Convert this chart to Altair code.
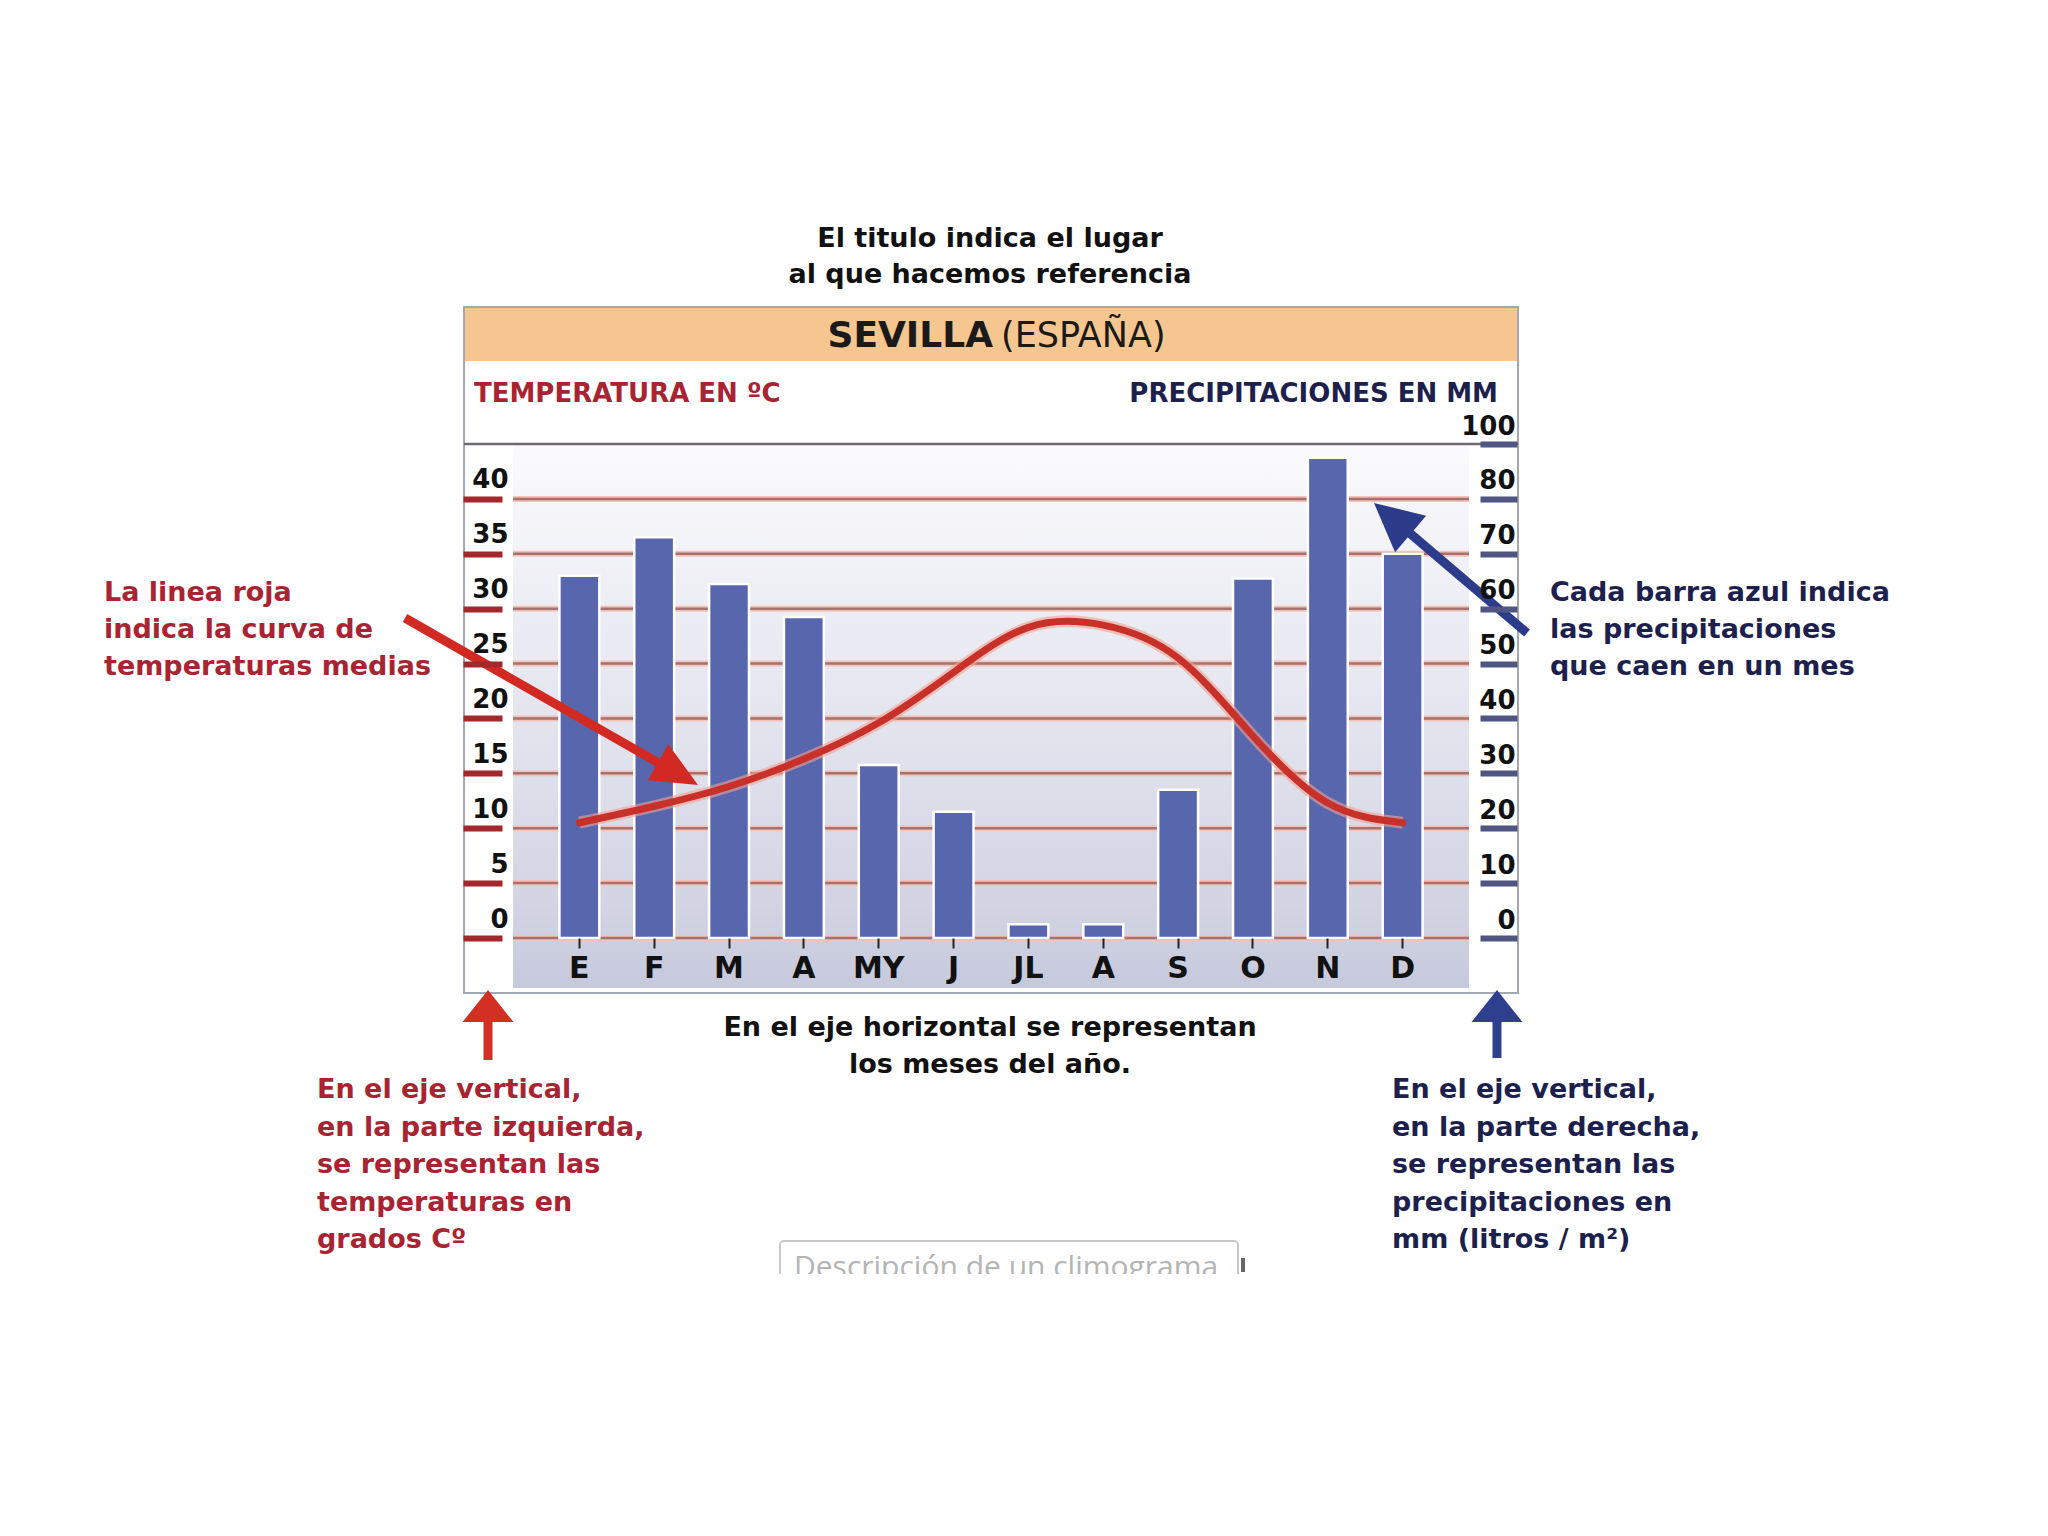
import json
import altair as alt
import pandas as pd

# ---------------- data ----------------
months = ["E", "F", "M", "A", "MY", "J", "JL", "A", "S", "O", "N", "D"]
temperatura = [10.5, 12.0, 13.8, 16.3, 19.6, 24.2, 28.3, 28.5, 25.5, 18.4, 12.3, 10.5]
precipitacion = [66, 73, 64.5, 58.5, 31.5, 23, 2.5, 2.5, 27, 65.5, 87.5, 70]
temp_ticks = [0, 5, 10, 15, 20, 25, 30, 35, 40]
precip_ticks = [0, 10, 20, 30, 40, 50, 60, 70, 80, 90]
precip_tick_labels = ["0", "10", "20", "30", "40", "50", "60", "70", "80", "100"]

titulo_lugar = "SEVILLA"
titulo_pais = "(ESPAÑA)"
eje_temp = "TEMPERATURA EN ºC"
eje_prec = "PRECIPITACIONES EN MM"
nota_titulo = ["El titulo indica el lugar", "al que hacemos referencia"]
nota_linea = ["La linea roja", "indica la curva de", "temperaturas medias"]
nota_barra = ["Cada barra azul indica", "las precipitaciones", "que caen en un mes"]
nota_horiz = ["En el eje horizontal se representan", "los meses del año."]
nota_izq = ["En el eje vertical,", "en la parte izquierda,", "se representan las",
            "temperaturas en", "grados Cº"]
nota_der = ["En el eje vertical,", "en la parte derecha,", "se representan las",
            "precipitaciones en", "mm (litros / m²)"]
pie = "Descripción de un climograma"

# ---------------- layout ----------------
FONT = "DejaVu Sans"
OX, OY = 513, 444          # plot origin on the page
PW, PH = 956, 494          # plot size
RED_T = "#a82432"
NAVY_T = "#1d1f4c"

df = pd.DataFrame({"i": list(range(12)), "temp": temperatura, "prec": precipitacion})
grid_df = pd.DataFrame({"t": temp_ticks})
one = pd.DataFrame({"k": [0]})


def X(px):
    return px - OX


def Y(py):
    return py - OY


def texto(lines, x, y, color, size, align="left", weight="bold", lh=None, font=FONT):
    kw = dict(text=lines, align=align, baseline="alphabetic", fontSize=size,
              fontWeight=weight, font=font, color=color)
    if lh:
        kw["lineHeight"] = lh
    return alt.Chart(one).mark_text(**kw).encode(x=alt.value(X(x)), y=alt.value(Y(y)))


def rect(x1, y1, x2, y2, **kw):
    return alt.Chart(one).mark_rect(**kw).encode(
        x=alt.value(X(x1)), x2=alt.value(X(x2)), y=alt.value(Y(y1)), y2=alt.value(Y(y2)))


def linea(x1, y1, x2, y2, color, w):
    return alt.Chart(one).mark_rule(color=color, strokeWidth=w, strokeCap="butt").encode(
        x=alt.value(X(x1)), x2=alt.value(X(x2)), y=alt.value(Y(y1)), y2=alt.value(Y(y2)))


def punta(x, y, color, size, angle, shape):
    return alt.Chart(one).mark_point(shape=shape, filled=True, size=size, angle=angle,
                                     color=color, opacity=1, strokeWidth=0).encode(
        x=alt.value(X(x)), y=alt.value(Y(y)))


# ---------------- scales / axes ----------------
month_expr = json.dumps(months) + "[datum.value]"
xscale = alt.Scale(paddingInner=0.467, paddingOuter=0.62)
xenc = alt.X("i:O", scale=xscale, axis=alt.Axis(
    title=None, labelExpr=month_expr, labelAngle=0, domain=False, grid=False,
    tickSize=10, tickWidth=2, tickColor="#222222",
    labelFont=FONT, labelFontSize=30, labelFontWeight="bold", labelColor="#111111",
    labelBaseline="alphabetic", labelPadding=29, zindex=1))

tscale = alt.Scale(domain=[0, 45], nice=False, zero=True)
pscale = alt.Scale(domain=[0, 90], nice=False, zero=True)

prec_expr = json.dumps(precip_tick_labels) + "[indexof(" + json.dumps(precip_ticks) + ", datum.value)]"

left_axis = alt.Axis(orient="left", values=temp_ticks, title=None, domain=False, grid=False,
                     offset=11, tickSize=39, tickWidth=6, tickColor="#a3282b",
                     labelAlign="right", labelPadding=-45, labelBaseline="alphabetic",
                     labelOffset=-11, labelFont=FONT, labelFontSize=26,
                     labelFontWeight="bold", labelColor="#111111", zindex=1)
right_axis = alt.Axis(orient="right", values=precip_ticks, labelExpr=prec_expr, title=None,
                      domain=False, grid=False, offset=11, tickSize=37, tickWidth=6,
                      tickColor="#4f5682", labelAlign="right", labelPadding=-2,
                      labelBaseline="alphabetic", labelOffset=-10, labelFont=FONT,
                      labelFontSize=26, labelFontWeight="bold", labelColor="#111111",
                      zindex=1)

# ---------------- layers ----------------
grad = alt.Gradient(gradient="linear", x1=0, x2=0, y1=0, y2=1, stops=[
    alt.GradientStop(color="#fbfbfd", offset=0),
    alt.GradientStop(color="#e6e7f0", offset=0.45),
    alt.GradientStop(color="#d2d4e3", offset=0.85),
    alt.GradientStop(color="#c6c9dc", offset=1)])

bg = rect(513, 444, 1469, 988, fill=grad)
frame = rect(464, 307, 1518, 993, fill="white", fillOpacity=0, stroke="#a4a6b4", strokeWidth=2)
header = rect(465, 308, 1517, 361, fill="#f5c68f")
top_line = linea(464, 444, 1518, 444, "#6e6a70", 2.5)

grid_halo = alt.Chart(grid_df).mark_rule(color="#f2c2bb", strokeWidth=6).encode(
    y=alt.Y("t:Q", scale=tscale, axis=None))
grid_core = alt.Chart(grid_df).mark_rule(color="#a5726e", strokeWidth=2.5).encode(
    y=alt.Y("t:Q", scale=tscale, axis=None))

bars = alt.Chart(df).mark_bar(color="#5867ad", stroke="white", strokeWidth=2.5).encode(
    x=xenc, y=alt.Y("prec:Q", scale=pscale, axis=right_axis))

line_halo = alt.Chart(df).mark_line(color="#f3a195", strokeWidth=12, opacity=0.6,
                                     interpolate="natural").encode(
    x=xenc, y=alt.Y("temp:Q", scale=tscale, axis=None))
line = alt.Chart(df).mark_line(color="#c8302a", strokeWidth=7, interpolate="natural",
                               strokeCap="round").encode(
    x=xenc, y=alt.Y("temp:Q", scale=tscale, axis=left_axis))

textos = [
    texto(nota_titulo, 990, 247, "#111111", 27, align="center", lh=36),
    texto([titulo_lugar], 993, 347, "#1a1a1a", 36, align="right"),
    texto([titulo_pais], 1001, 347, "#1a1a1a", 35, weight="normal"),
    texto([eje_temp], 474, 402, RED_T, 26),
    texto([eje_prec], 1498, 402, NAVY_T, 26, align="right"),
    texto(nota_linea, 104, 601, RED_T, 27, lh=37),
    texto(nota_barra, 1550, 601, NAVY_T, 27, lh=37),
    texto(nota_horiz, 990, 1036, "#111111", 27, align="center", lh=37),
    texto(nota_izq, 317, 1098, RED_T, 27, lh=37.5),
    texto(nota_der, 1392, 1098, NAVY_T, 27, lh=37.5),
]

tri = "M0,-1L0.9,1L-0.9,1Z"
tri_eq = "M0,-1L1,1L-1,1Z"
tri_up = "M0,-0.63L1,0.63L-1,0.63Z"
flechas = [
    linea(405, 618, 678, 774, "#d22a22", 9),
    punta(678, 773.6, "#d22a22", 2116, 119.7, tri),
    linea(1527, 633, 1392, 518, "#2d3c8a", 9),
    punta(1392.3, 518.5, "#2d3c8a", 2304, 310.3, tri_eq),
    linea(488, 1006, 488, 1060, "#d22f25", 9),
    punta(488, 1006, "#d22f25", 2601, 0, tri_up),
    linea(1497, 1006, 1497, 1058, "#2e3f8e", 9),
    punta(1497, 1006, "#2e3f8e", 2601, 0, tri_up),
]

caption = [
    rect(780, 1241, 1238, 1295, fill="white", stroke="#c9c9c9", strokeWidth=2, cornerRadius=4),
    texto([pie], 794, 1277, "#b4b4b4", 30, weight="normal", font="Open Sans"),
    rect(1241, 1258, 1245, 1272, fill="#666666"),
    rect(770, 1274, 1250, 1310, fill="white"),
]

chart = alt.layer(
    bg, frame, header, top_line, grid_halo, grid_core, bars, line_halo, line,
    *textos, *flechas, *caption
).resolve_scale(y="independent").properties(
    width=PW, height=PH,
    autosize=alt.AutoSizeParams(type="none"),
    padding={"left": 505, "top": 436, "right": 571, "bottom": 590},
    background="white",
).configure_view(strokeWidth=0)

chart.save("out.html", embed_options={"renderer": "svg", "actions": False})
